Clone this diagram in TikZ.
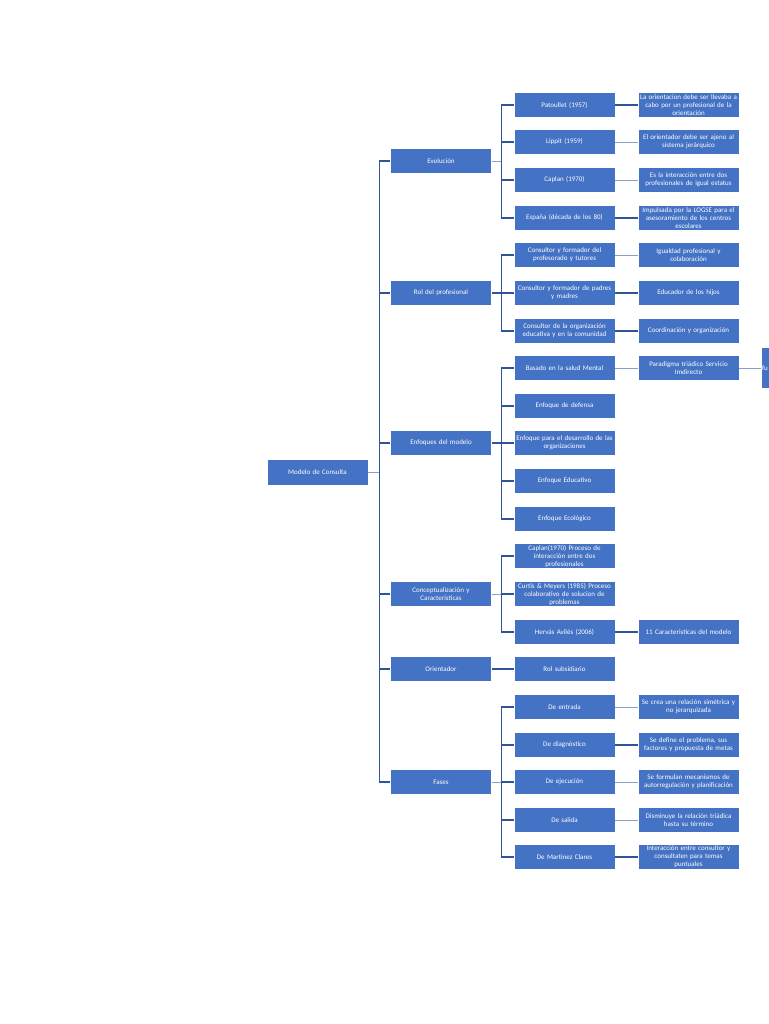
\documentclass[tikz,border=0pt]{standalone}
\usepackage{fontspec}
\setmainfont{Carlito}
\usetikzlibrary{calc}
\definecolor{boxblue}{RGB}{68,114,196}
\definecolor{linkblue}{RGB}{47,85,151}
\definecolor{linklight}{RGB}{140,160,198}
\newcommand\boxfont{\fontsize{7}{8}\selectfont\hyphenpenalty=10000\relax\hbadness=10000\relax\hfuzz=20pt\relax}
\begin{document}
\begin{tikzpicture}[x=1pt,y=-1pt]
            \tikzset{
                box/.style={fill=boxblue,draw=white,line width=0.3pt,text=white,minimum width=101pt,minimum height=25pt,
                    inner sep=0.5pt,text width=100pt,align=center,font=\boxfont},
                link/.style={draw=linkblue,line width=1.3pt},
                soft/.style={draw=linklight,line width=0.8pt},}
            \useasboundingbox (0,0) rectangle (768,1024);
            \node[box,minimum height=26pt] (modelo) at (317.5,472) {Modelo de Consulta};
            % primer nivel
            \foreach \n/\y/\t in {evol/161/Evolución, rol/293/Rol del profesional, enfoq/443/Enfoques del modelo,
                concep/594/{Conceptualización y\\Caracteristicas}, orient/669/Orientador, fases/782/Fases}
                \node[box] (\n) at (441,\y) {\t};
            % segundo nivel
            \foreach \n/\y/\t in {pat/105/Patoullet (1957), lip/142/Lippit (1959), cap/180/Caplan (1970),
                esp/218/España (década de los 80), cprof/255/{Consultor y formador del\\profesorado y tutores},
                cpad/293/{Consultor y formador de padres\\y madres},
                corg/331/{Consultor de la organización\\educativa y en la comunidad},
                sal/368/Basado en la salud Mental, def/406/Enfoque de defensa,
                des/443/{Enfoque para el desarrollo de las\\organizaciones}, edu/481/Enfoque Educativo,
                eco/519/Enfoque Ecológico, capd/556/{Caplan(1970) Proceso de\\interacción entre dos\\profesionales},
                cur/594/{Curtis \& Meyers (1985) Proceso\\colaborativo de solucion de\\problemas},
                her/632/Hervás Avilés (2006), sub/669/Rol subsidiario, ent/707/De entrada,
                dia/745/De diagnóstico, eje/782/De ejecución, sald/820/De salida, mar/857/De Martinez Clares}
                \node[box] (\n) at (564.5,\y) {\t};
            % tercer nivel
            \foreach \n/\y/\t in {patx/105/{La orientacion debe ser llevaba a\\cabo por un profesional de la\\orientación},
                lipx/142/{El orientador debe ser ajeno al\\sistema jerárquico},
                capx/180/{Es la interacción entre dos\\profesionales de igual estatus},
                espx/218/{Impulsada por la LOGSE para el\\asesoramiento de los centros\\escolares},
                cprofx/255/{Igualdad profesional y\\colaboración}, cpadx/293/Educador de los hijos,
                corgx/331/Coordinación y organización, salx/368/{Paradigma triádico Servicio\\Imdirecto},
                herx/632/11 Caracteristicas del modelo,
                entx/707/{Se crea una relación simétrica y\\no jerarquizada},
                diax/745/{Se define el problema, sus\\factores y propuesta de metas},
                ejex/782/{Se formulan mecanismos de\\autorregulación y planificación},
                saldx/820/{Disminuye la relación triádica\\hasta su término},
                marx/857/{Interacción entre consultor y\\consultaten para temas\\puntuales}}
                \node[box] (\n) at (688.5,\y) {\t};
            \node[box,minimum width=40pt,text width=38pt,minimum height=41pt,align=left] (salxx) at (781,368) {fu};
            % conectores
            \coordinate (b0) at ($(modelo.east)+(11,0)$);
            \draw[soft] (modelo.east) -- (b0);
            \foreach \c in {evol,rol,enfoq,concep,orient,fases}
                \draw[link] (b0) |- (\c.west);
            \foreach \p/\kids/\s in {evol/{pat,lip,cap,esp}/soft, rol/{cprof,cpad,corg}/link,
                enfoq/{sal,def,des,edu,eco}/link, concep/{capd,cur,her}/soft, fases/{ent,dia,eje,sald,mar}/soft}{
                \coordinate (b\p) at ($(\p.east)+(10,0)$);
                \draw[\s] (\p.east) -- (b\p);
                \foreach \c in \kids
                    \draw[link] (b\p) |- (\c.west);
            }
            \draw[link] (orient) -- (sub);
            \foreach \c/\s in {pat/link, lip/soft, cap/soft, esp/link, cprof/soft, cpad/link, corg/link,
                sal/soft, her/link, ent/soft, dia/link, eje/soft, sald/soft, mar/link}
                \draw[\s] (\c) -- (\c x);
            \draw[soft] (salx) -- (salxx);
        \end{tikzpicture}
\end{document}
